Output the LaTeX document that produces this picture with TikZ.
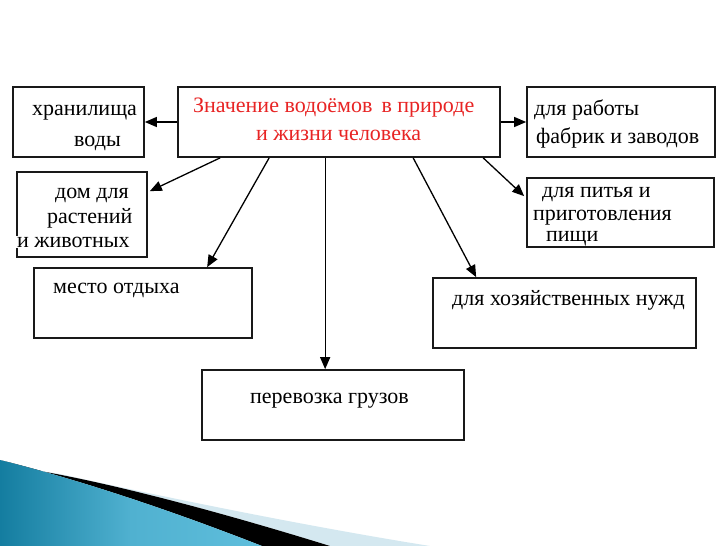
\documentclass[tikz,border=0pt]{standalone}
\usepackage{fontspec}
\setmainfont{Liberation Serif}
\usetikzlibrary{arrows.meta,calc}
\definecolor{boxline}{RGB}{25,25,25}
\definecolor{titlered}{RGB}{232,36,36}
\definecolor{tealdark}{RGB}{20,125,160}
\definecolor{teallight}{RGB}{95,190,220}
\definecolor{paleblue}{RGB}{212,232,240}
\tikzset{
  box/.style={draw=boxline,line width=1.7pt,rectangle,inner sep=0pt,fill=white},
  lbl/.style={inner sep=0pt,anchor=base west,font=\fontsize{22}{26}\selectfont,text=black},
  conn/.style={draw=black,line width=1.3pt,-{Triangle[length=12pt,width=10pt]}}
}
\begin{document}
\begin{tikzpicture}[x=1pt,y=-1pt]
\useasboundingbox[fill=white] (0,0) rectangle (728,546);
% decorative swoosh
\fill[paleblue] (60,474) .. controls (200,505) and (330,530) .. (430,546) -- (330,546) .. controls (230,515) and (120,485) .. (40,471) -- cycle;
\fill[black] (40,471) .. controls (120,485) and (230,515) .. (330,546) -- (262,546) .. controls (170,510) and (80,480) .. (0,460) -- cycle;
\shade[left color=tealdark,right color=teallight,middle color=teallight!80!tealdark] (0,460) .. controls (80,480) and (170,510) .. (262,546) -- (0,546) -- cycle;
% boxes
\node[box,minimum width=322pt,minimum height=70pt] (central) at (339,122) {};
\node[box,minimum width=131pt,minimum height=70pt] (stor) at (78.5,122) {};
\node[box,minimum width=130pt,minimum height=85pt] (dom) at (82,214.5) {};
\node[box,minimum width=188pt,minimum height=70pt] (rab) at (621,122) {};
\node[box,minimum width=187pt,minimum height=69pt] (pit) at (620.5,212.5) {};
\node[box,minimum width=218pt,minimum height=70pt] (otd) at (143,303) {};
\node[box,minimum width=262pt,minimum height=70pt] (per) at (333,405) {};
\node[box,minimum width=263pt,minimum height=70pt] (hoz) at (564.5,313) {};
% texts
\node[lbl,text=titlered] (c1) at (193,112) {Значение водоёмов\, в природе};
\node[lbl,text=titlered] (c2) at (256,140) {и жизни человека};
\node[lbl] (s1) at (32,115) {хранилища};
\node[lbl] (s2) at (74,146) {воды};
\node[lbl] (d1) at (55,198) {дом для};
\node[lbl] (d2) at (47,223) {растений};
\node[lbl,fill=white,inner xsep=2pt,inner ysep=1pt] (d3) at (15,247) {и животных};
\node[lbl] (r1) at (534,115) {для работы};
\node[lbl] (r2) at (536,143) {фабрик и заводов};
\node[lbl] (p1) at (542,197) {для питья и};
\node[lbl] (p2) at (533,220) {приготовления};
\node[lbl] (p3) at (546,241) {пищи};
\node[lbl] (o1) at (53,293) {место отдыха};
\node[lbl] (g1) at (250,403) {перевозка грузов};
\node[lbl] (h1) at (452,305) {для хозяйственных нужд};
% connector end points
\coordinate (sDom) at ($(central.south west)+(43,0)$);
\coordinate (eDom) at ($(dom.north east)+(2,20)$);
\coordinate (sOtd) at ($(central.south west)+(92,0)$);
\coordinate (eOtd) at ($(otd.north west)+(174,0)$);
\coordinate (sPer) at ($(central.south west)+(148,0)$);
\coordinate (ePer) at ($(per.north west)+(124,0)$);
\coordinate (sHoz) at ($(central.south west)+(236,0)$);
\coordinate (eHoz) at ($(hoz.north west)+(44,0)$);
\coordinate (sPit) at ($(central.south west)+(306,0)$);
\coordinate (ePit) at ($(pit.north west)+(-2,19)$);
% connectors
\draw[conn] (central.west) -- (stor.east);
\draw[conn] (central.east) -- (rab.west);
\draw[conn] (sDom) -- (eDom);
\draw[conn] (sOtd) -- (eOtd);
\draw[conn] (sPer) -- (ePer);
\draw[conn] (sHoz) -- (eHoz);
\draw[conn] (sPit) -- (ePit);
\end{tikzpicture}
\end{document}
